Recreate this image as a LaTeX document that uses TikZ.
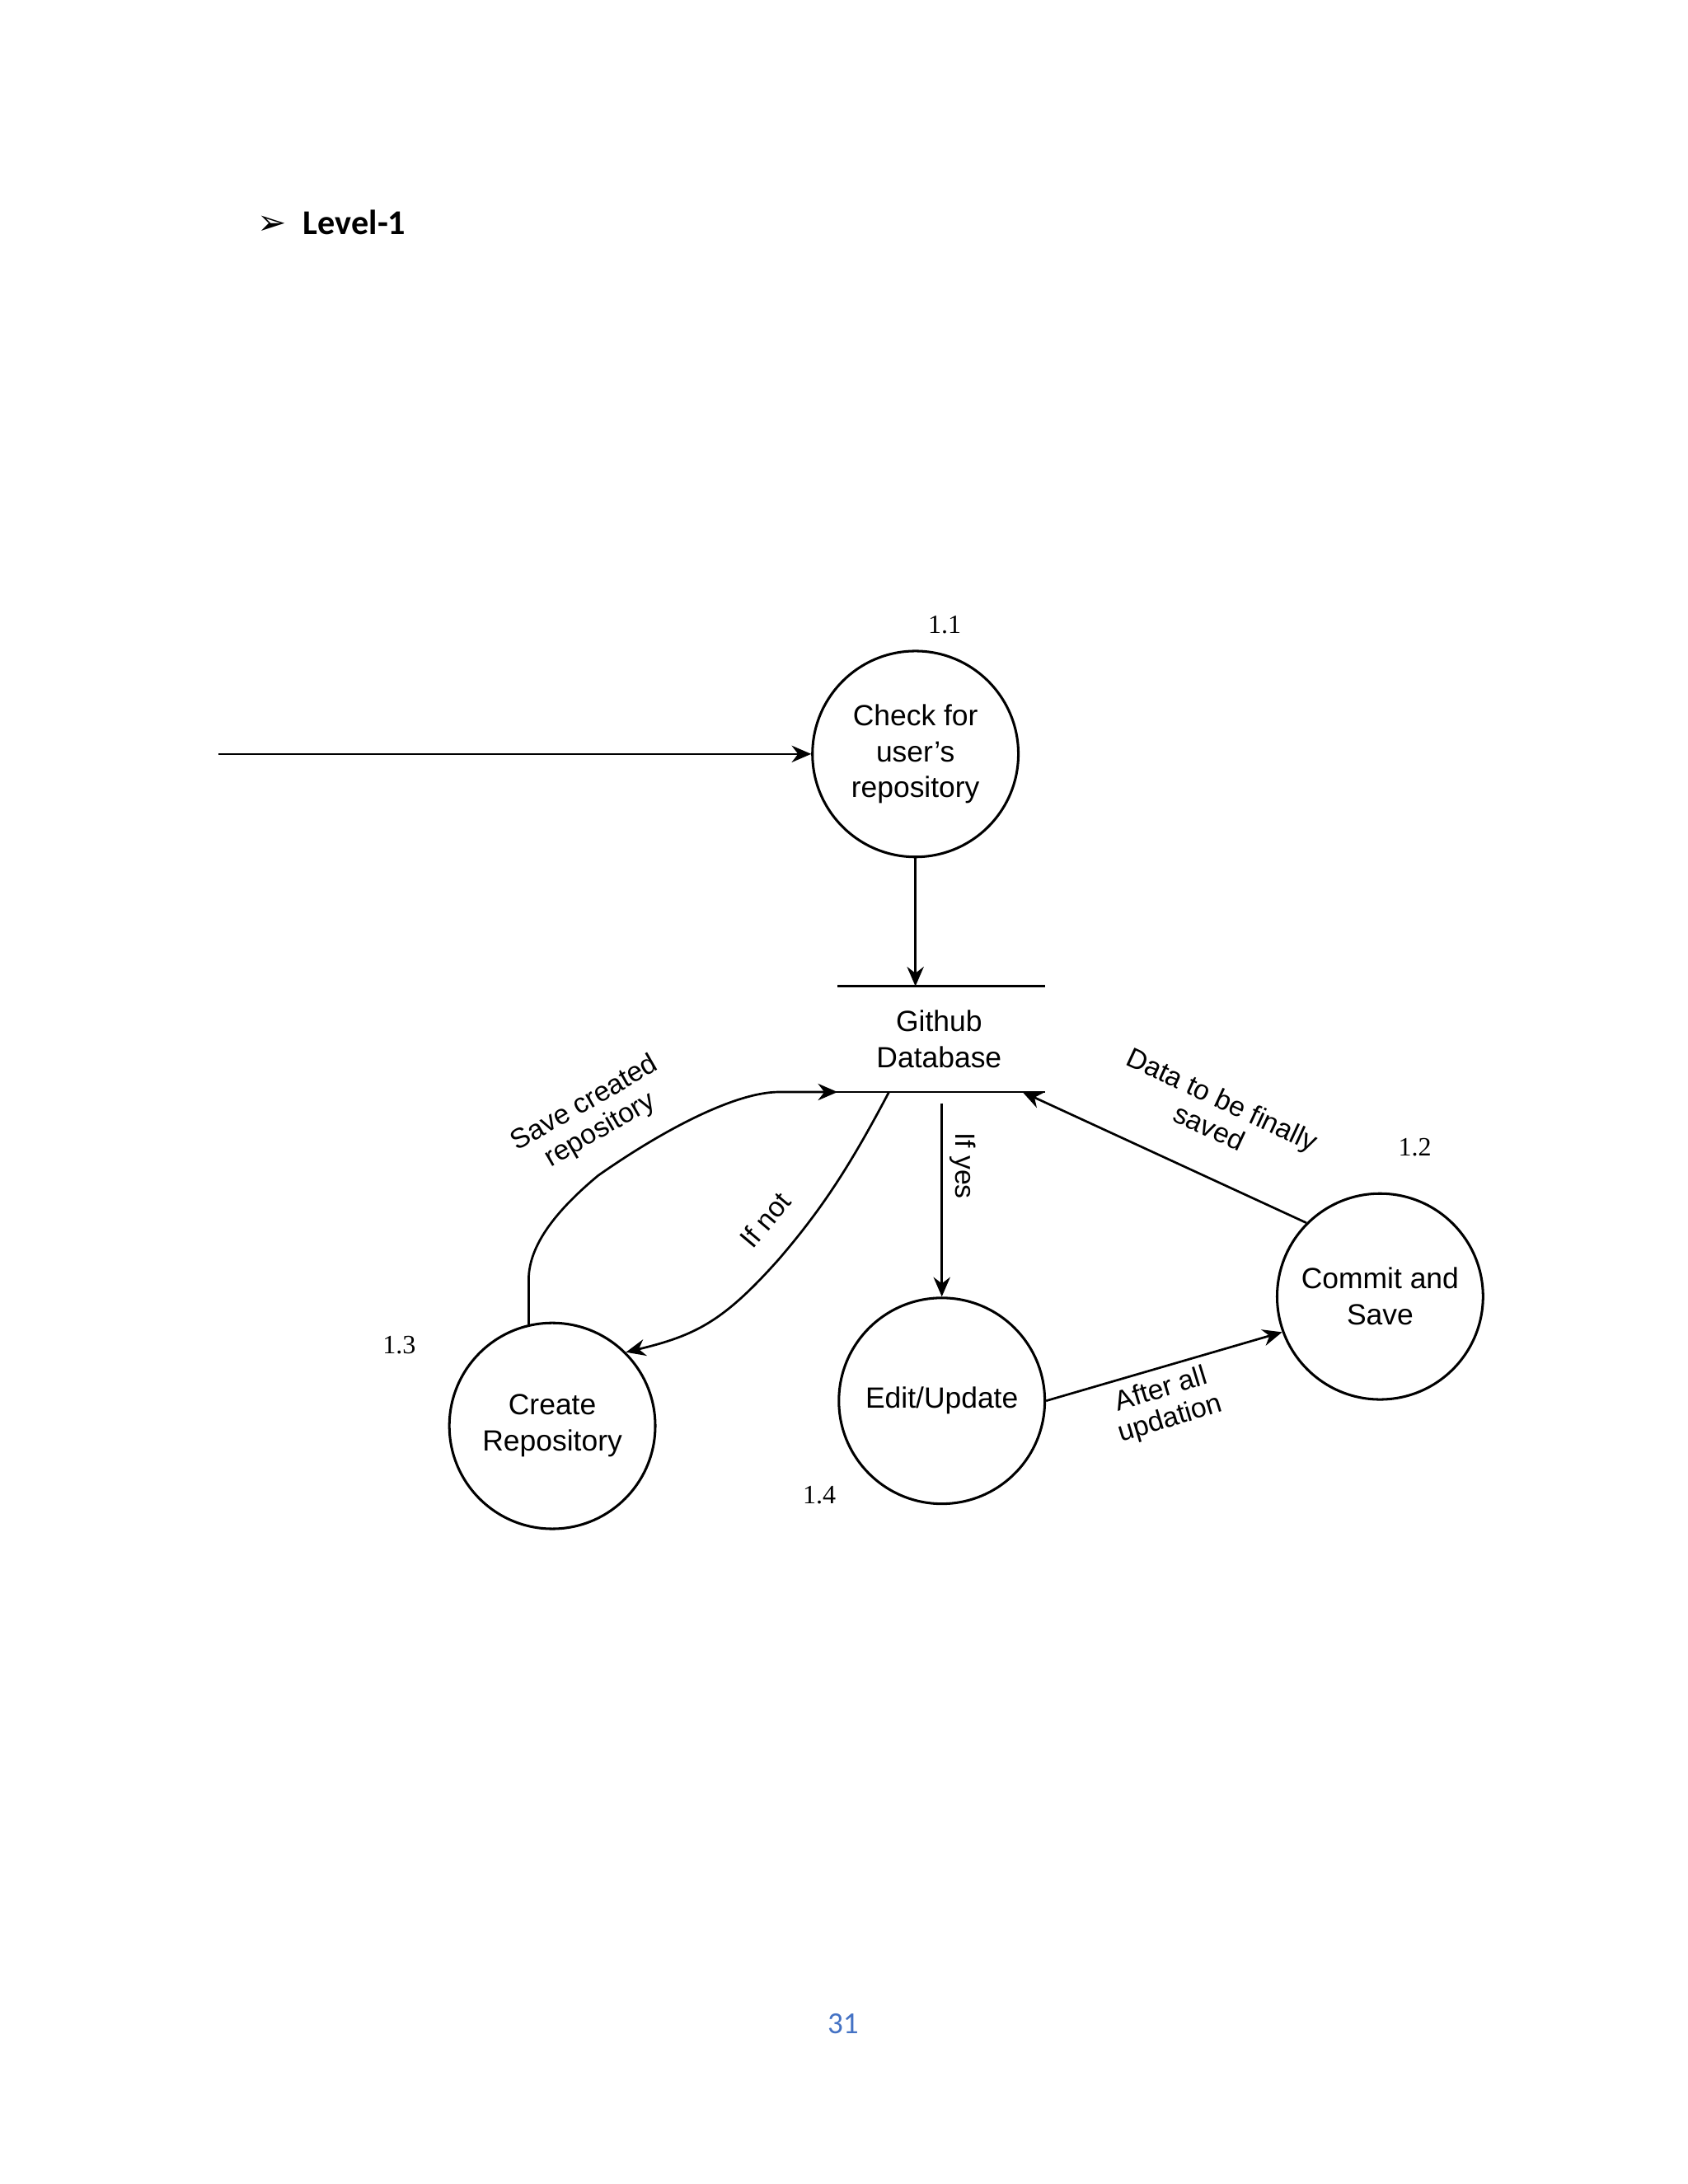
\documentclass[tikz,border=0pt]{standalone}
\usepackage{fontspec}
\setmainfont{Liberation Sans}
\newfontfamily\carl{Carlito}
\newfontfamily\djv{DejaVu Sans}
\newfontfamily\tms{Liberation Serif}
\usetikzlibrary{arrows.meta}
\definecolor{pnum}{RGB}{68,114,196}
\begin{document}
\begin{tikzpicture}[x=0.5pt,y=-0.5pt,
  proc/.style={circle,draw,line width=0.9pt,minimum size=74pt,inner sep=0pt,align=center,font=\fontsize{10.5}{13}\selectfont},
  flow/.style={-{Stealth[length=7pt,width=6pt]},line width=0.8pt},
  lbl/.style={font=\fontsize{10}{11}\selectfont,align=center},
  num/.style={font=\tms\fontsize{9.5}{11}\selectfont}]
\useasboundingbox (0,0) rectangle (1213,1570);
\node[anchor=west,font=\carl\bfseries\fontsize{12.5}{14}\selectfont] (title) at (178,160) {{\djv\mdseries ➢}\hspace{6pt}Level-1};
\node (p11) [proc] at (658,542) {Check for\\user's\\repository};
\node (p12) [proc] at (992,932) {Commit and\\Save};
\node (p14) [proc] at (677,1007) {Edit/Update};
\node (p13) [proc] at (397,1025) {Create\\Repository};
\node[num] (n11) at (679,449) {1.1};
\node[num] (n12) at (1017,825) {1.2};
\node[num] (n13) at (287,967) {1.3};
\node[num] (n14) at (589,1075) {1.4};
\coordinate (src) at (157,542);
\coordinate (dbtl) at (602,709); \coordinate (dbtr) at (751,709);
\coordinate (dbbl) at (598,785); \coordinate (dbbr) at (751,785);
\draw[line width=0.8pt] (dbtl) -- (dbtr);
\draw[line width=0.8pt] (dbbl) -- (dbbr);
\node[font=\fontsize{10.5}{13}\selectfont,align=center] (db) at (675,747) {Github\\Database};
\coordinate (dbin) at (658,709);
\coordinate (dbnot) at (639,785);
\coordinate (dbyes) at (677,793);
\coordinate (dbsave) at (602,785);
\coordinate (dbdata) at (735,785);
\draw[flow] (src) -- (p11.west);
\draw[flow] (p11.south) -- (dbin);
\draw[flow] (dbyes) -- (p14.north);
\draw[flow] (dbnot) .. controls (610,840) and (590,870) .. (560,905) .. controls (520,950) and (500,960) .. (p13.45);
\draw[flow] (380,952) -- (380,920) .. controls (380,895) and (400,870) .. (430,845) .. controls (480,810) and (530,785) .. (560,785) -- (dbsave);
\draw[flow] (p12.north west) -- (dbdata);
\draw[flow] (p14.east) -- (p12.200);
\node[lbl,rotate=-90] (lyes) at (692,838) {If yes};
\node[lbl,rotate=50] (lnot) at (550,877) {If not};
\node[lbl,rotate=30] (lsave) at (426,803) {Save created\\repository};
\node[lbl,rotate=-25] (ldata) at (874,800) {Data to be finally\\saved};
\node[lbl,rotate=17] (lafter) at (838,1010) {After all\\updation};
\node[font=\carl\fontsize{11}{13}\selectfont,text=pnum] (page) at (606,1455) {31};
\end{tikzpicture}
\end{document}
